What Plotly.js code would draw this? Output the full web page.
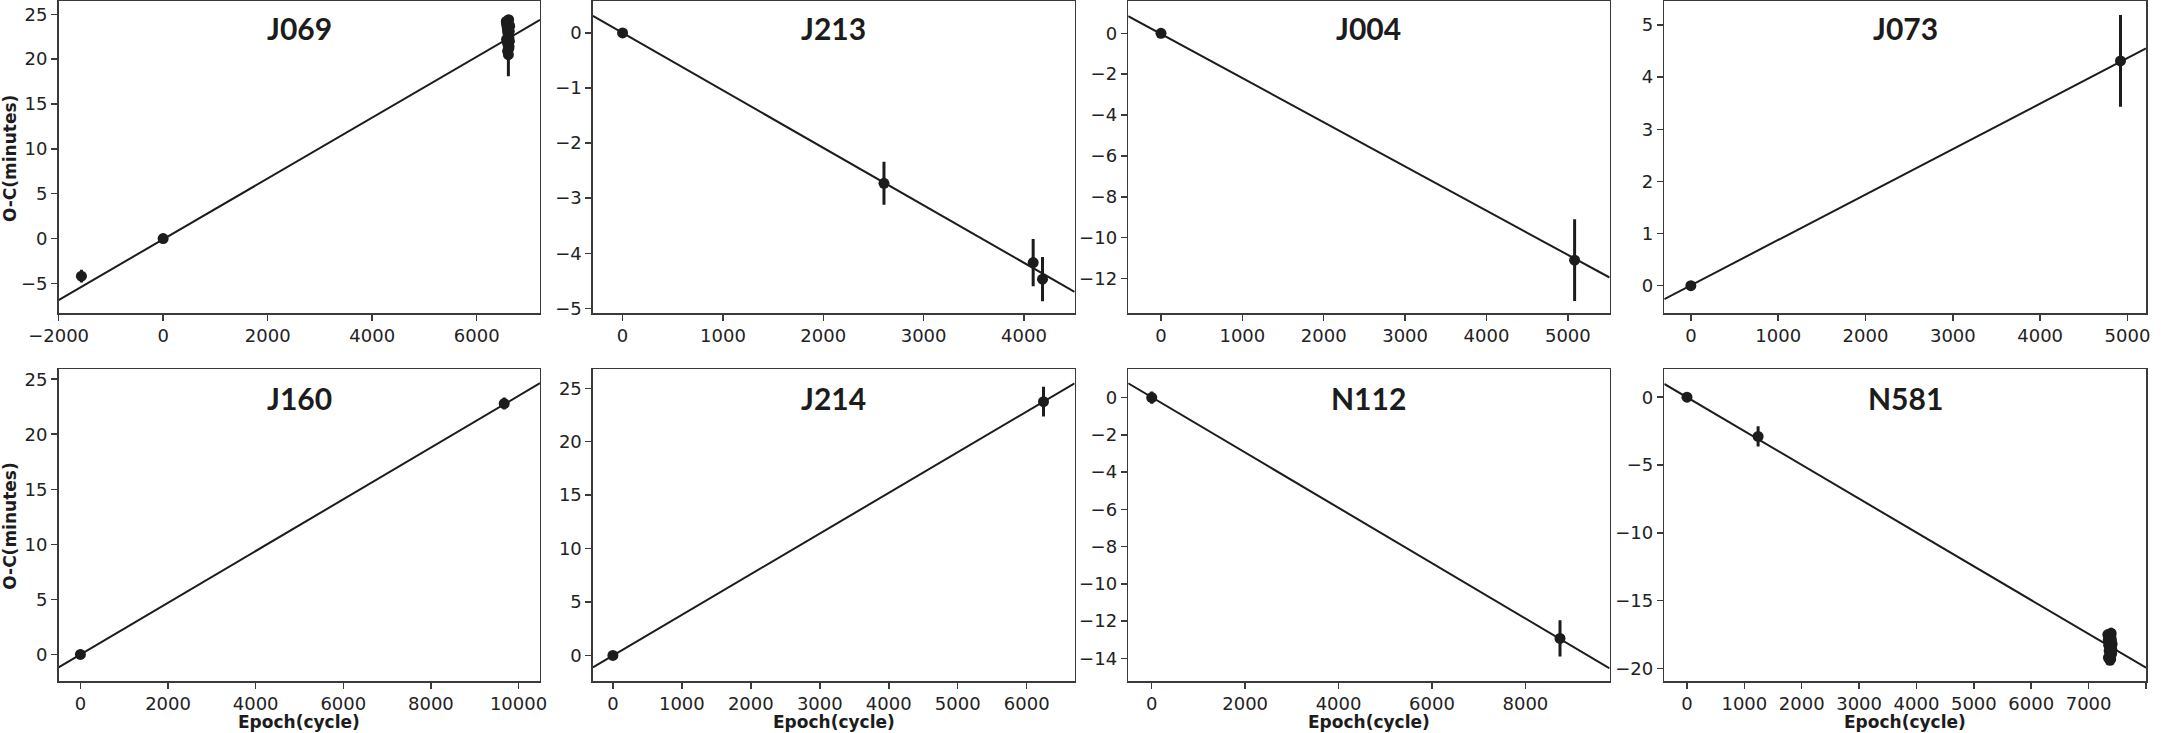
<!DOCTYPE html>
<html>
<head>
<meta charset="utf-8">
<script src="https://cdn.plot.ly/plotly-3.0.1.min.js"></script>
<style>html,body{margin:0;padding:0;background:#fff;}</style>
</head>
<body>
<div id="plot" style="width:2167px;height:733px;"></div>
<script>
// one panel per star
var names = ['J069', 'J213', 'J004', 'J073', 'J160', 'J214', 'N112', 'N581'];

// O-C points: epoch (cycle), O-C (minutes), error (minutes)
var j069Epoch = [-1563, 0, 6565, 6572, 6580, 6588, 6595, 6601, 6608, 6615, 6622, 6630, 6570, 6585, 6598, 6612, 6625, 6590, 6605, 6618, 6600, 6610];
var j069OC    = [-4.19, 0, 24.2, 23.9, 23.6, 23.3, 23.0, 22.8, 22.6, 22.4, 23.1, 23.7, 22.2, 21.9, 21.6, 21.2, 22.0, 20.9, 20.5, 21.4, 23.4, 24.4];
var j069Err   = [0.7, 0.1, 0.4, 0.5, 0.5, 0.6, 0.5, 0.4, 0.6, 0.5, 0.5, 0.4, 0.6, 0.7, 0.6, 0.8, 0.5, 0.9, 2.4, 0.7, 0.5, 0.3];

var j213Epoch = [0, 2605, 4092, 4185];
var j213OC    = [0, -2.73, -4.17, -4.47];
var j213Err   = [0.05, 0.39, 0.43, 0.4];

var j004Epoch = [0, 5083];
var j004OC    = [0, -11.1];
var j004Err   = [0.1, 2.0];

var j073Epoch = [0, 4920];
var j073OC    = [0, 4.31];
var j073Err   = [0.03, 0.88];

var j160Epoch = [0, 9673];
var j160OC    = [0, 22.79];
var j160Err   = [0.2, 0.55];

var j214Epoch = [0, 6244];
var j214OC    = [0, 23.75];
var j214Err   = [0.2, 1.4];

var n112Epoch = [0, 8741];
var n112OC    = [0, -12.93];
var n112Err   = [0.33, 0.97];

var n581Epoch = [0, 1240, 7335, 7342, 7350, 7358, 7365, 7372, 7380, 7388, 7395, 7402, 7410, 7345, 7362, 7378, 7392, 7405, 7355, 7385, 7370, 7398];
var n581OC    = [0, -2.89, -17.5, -17.9, -18.3, -18.7, -19.1, -19.4, -18.0, -17.6, -18.5, -18.9, -18.2, -19.2, -17.7, -18.8, -17.4, -18.6, -18.0, -19.3, -18.4, -17.9];
var n581Err   = [0.1, 0.75, 0.3, 0.4, 0.4, 0.3, 0.4, 0.3, 0.5, 0.4, 0.3, 0.4, 0.3, 0.4, 0.3, 0.4, 0.4, 0.3, 0.5, 0.3, 0.4, 0.3];

// linear ephemeris fits, read at the panel edges
var j069FitX = [-2000, 7210];  var j069FitY = [-6.86, 24.37];
var j213FitX = [-296, 4505];   var j213FitY = [0.31, -4.70];
var j004FitX = [-403, 5513];   var j004FitY = [0.84, -11.95];
var j073FitX = [-304, 5212];   var j073FitY = [-0.26, 4.55];
var j160FitX = [-498, 10490];  var j160FitY = [-1.18, 24.64];
var j214FitX = [-290, 6695];   var j214FitY = [-1.12, 25.47];
var n112FitX = [-504, 9803];   var n112FitY = [0.77, -14.54];
var n581FitX = [-395, 8000];   var n581FitY = [0.98, -19.95];

var ink = '#1c1c1c';
var frame = '#3a3a3a';

var panels = [
	{x: j069Epoch, y: j069OC, e: j069Err, fx: j069FitX, fy: j069FitY, xr: [-2000, 7210], yr: [-8.33, 26.48], dx: 2000, dy: 5},
	{x: j213Epoch, y: j213OC, e: j213Err, fx: j213FitX, fy: j213FitY, xr: [-296, 4505],  yr: [-5.09, 0.58],  dx: 1000, dy: 1},
	{x: j004Epoch, y: j004OC, e: j004Err, fx: j004FitX, fy: j004FitY, xr: [-403, 5513],  yr: [-13.7, 1.58],  dx: 1000, dy: 2},
	{x: j073Epoch, y: j073OC, e: j073Err, fx: j073FitX, fy: j073FitY, xr: [-304, 5212],  yr: [-0.53, 5.46],  dx: 1000, dy: 1},
	{x: j160Epoch, y: j160OC, e: j160Err, fx: j160FitX, fy: j160FitY, xr: [-498, 10490], yr: [-2.42, 25.9],  dx: 2000, dy: 5},
	{x: j214Epoch, y: j214OC, e: j214Err, fx: j214FitX, fy: j214FitY, xr: [-290, 6695],  yr: [-2.40, 26.78], dx: 1000, dy: 5},
	{x: n112Epoch, y: n112OC, e: n112Err, fx: n112FitX, fy: n112FitY, xr: [-504, 9803],  yr: [-15.22, 1.52], dx: 2000, dy: 2},
	{x: n581Epoch, y: n581OC, e: n581Err, fx: n581FitX, fy: n581FitY, xr: [-395, 8000],  yr: [-20.93, 2.06], dx: 1000, dy: 5}
];

var xDom = [[0.02704, 0.24919], [0.27360, 0.49590], [0.52063, 0.74278], [0.76802, 0.99031]];
var yDom = [[0.5726, 0.9986], [0.0709, 0.4962]];
var titleY = [0.9618, 0.457];

var data = [];
var layout = {
	width: 2167,
	height: 733,
	margin: {l: 0, r: 0, t: 0, b: 0},
	paper_bgcolor: '#ffffff',
	plot_bgcolor: '#ffffff',
	showlegend: false,
	hovermode: false,
	annotations: []
};

function axisStyle(dom, range, dtick, anchor) {
	return {
		domain: dom,
		anchor: anchor,
		range: range,
		autorange: false,
		tick0: 0,
		dtick: dtick,
		exponentformat: 'none',
		separatethousands: false,
		showgrid: false,
		zeroline: false,
		showline: true,
		mirror: true,
		linecolor: frame,
		linewidth: 1.5,
		ticks: 'outside',
		ticklen: 6,
		tickwidth: 1.5,
		tickcolor: frame,
		tickfont: {family: 'DejaVu Sans', size: 18, color: '#222'}
	};
}

panels.forEach(function (p, i) {
	var row = Math.floor(i / 4);
	var col = i % 4;
	var s = i === 0 ? '' : String(i + 1);

	layout['xaxis' + s] = axisStyle(xDom[col], p.xr, p.dx, 'y' + s);
	layout['yaxis' + s] = axisStyle(yDom[row], p.yr, p.dy, 'x' + s);
	// epochs never get a thousands separator (10000, not 10,000)
	if (p.xr[0] >= -1000) layout['xaxis' + s].tickformat = 'd';

	data.push({
		x: p.fx,
		y: p.fy,
		xaxis: 'x' + s,
		yaxis: 'y' + s,
		mode: 'lines',
		line: {color: ink, width: 2}
	});

	data.push({
		x: p.x,
		y: p.y,
		xaxis: 'x' + s,
		yaxis: 'y' + s,
		mode: 'markers',
		marker: {color: ink, size: 11},
		error_y: {type: 'data', array: p.e, visible: true, color: ink, thickness: 3, width: 0}
	});

	layout.annotations.push({
		text: '<b>' + names[i] + '</b>',
		xref: 'paper', yref: 'paper',
		x: (xDom[col][0] + xDom[col][1]) / 2,
		y: titleY[row],
		xanchor: 'center', yanchor: 'middle',
		showarrow: false,
		font: {family: 'Lato', size: 30, color: ink}
	});

	if (row === 1) {
		layout.annotations.push({
			text: '<b>Epoch(cycle)</b>',
			xref: 'paper', yref: 'paper',
			x: (xDom[col][0] + xDom[col][1]) / 2,
			y: 0.0154,
			xanchor: 'center', yanchor: 'middle',
			showarrow: false,
			font: {family: 'DejaVu Sans', size: 17, color: ink}
		});
	}
});

// y axis titles only on the left column
[0.7844, 0.2828].forEach(function (yy) {
	layout.annotations.push({
		text: '<b>O-C(minutes)</b>',
		xref: 'paper', yref: 'paper',
		x: 0.0046, y: yy,
		xanchor: 'center', yanchor: 'middle',
		textangle: -90,
		showarrow: false,
		font: {family: 'DejaVu Sans', size: 17, color: ink}
	});
});

Plotly.newPlot('plot', data, layout, {staticPlot: true});
</script>
</body>
</html>
